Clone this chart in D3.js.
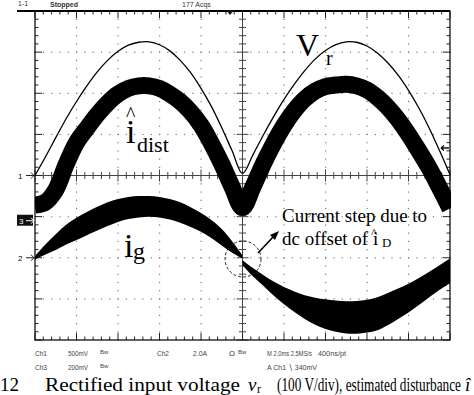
<!DOCTYPE html>
<html><head><meta charset="utf-8">
<script src="https://cdn.jsdelivr.net/npm/d3@7"></script>
<style>body{margin:0;background:#fff}svg{display:block}</style>
</head><body><svg id="c" width="474" height="395"></svg>
<script>
// ---- data (2 ms/div, 10 divisions) ----
const timeMs = [0,0.5,1,1.5,2,2.5,3,3.5,4,4.5,5,5.5,6,6.5,7,7.5,8,8.5,9,9.5,10,
                10.5,11,11.5,12,12.5,13,13.5,14,14.5,15,15.5,16,16.5,17,17.5,18,18.5,19,19.5,20];
// Ch1: rectified input voltage v_r, volts (100 V/div)
const vr = [0,45,92,138,180,218,252,280,302,317,324,325,318,303,280,250,212,168,116,60,5,
            50,98,143,185,222,255,283,304,318,325,324,315,298,274,244,207,164,115,60,2];
// Ch3: estimated disturbance i_dist, mV (200 mV/div)
const idist = [76,90,150,274,380,450,516,572,616,644,656,656,644,616,580,530,464,376,276,164,64,
               164,276,376,464,536,592,630,652,660,664,656,636,600,552,492,420,340,256,160,60];
// Ch2: grid current i_g, amps (2 A/div): positive half, then negative half after the step
const igTimePos = [0,0.5,1,1.5,2,2.5,3,3.5,4,4.5,5,5.5,6,6.5,7,7.5,8,8.5,9,9.5,10];
const igPos = [0,0.4,0.76,1.12,1.4,1.66,1.9,2.12,2.3,2.42,2.48,2.5,2.46,2.36,2.2,1.98,1.72,1.4,1.0,0.52,0.04];
const igPosRipple = [0.08,0.24,0.38,0.48,0.54,0.56,0.58,0.58,0.56,0.54,0.52,0.5,0.5,0.5,0.5,0.48,0.46,0.44,0.4,0.28,0.08];
const igTimeNeg = [10,10.5,11,11.5,12,12.5,13,13.5,14,14.5,15,15.5,16,16.5,17,17.5,18,18.5,19,19.5,20];
const igNeg = [-0.24,-0.7,-1.1,-1.5,-1.84,-2.14,-2.4,-2.6,-2.74,-2.84,-2.9,-2.9,-2.84,-2.72,-2.5,-2.24,-1.96,-1.64,-1.3,-0.96,-0.64];
const igNegRipple = [0.12,0.2,0.26,0.34,0.42,0.5,0.58,0.66,0.72,0.76,0.78,0.8,0.8,0.8,0.78,0.74,0.7,0.66,0.62,0.6,0.6];
// status read-out: [text, x, width]
const statusRow1 = [["Ch1",35,12],["500mV",68,20],["Ch2",157,12],["2.0A",193,14],["\u03A9",229,6],["M 2.0ms 2.5MS/s",267,45],["400ns/pt",318,28]];
const statusRow2 = [["Ch3",35,12],["200mV",68,20],["A  Ch1  \u2216  340mV",267,50]];
const bwMarks = [[100,1],[238,1],[100,2]];

// ---- layout ----
const svg = d3.select('#c');
const X0=35, X1=450, Y0=11, Y1=340;
const x = d3.scaleLinear().domain([0,20]).range([X0,X1]);
const xd = d3.scaleLinear().domain([0,10]).range([X0,X1]);
const yd = d3.scaleLinear().domain([-4,4]).range([Y1,Y0]);
const yV = d3.scaleLinear().domain([-400,400]).range([Y1,Y0]);
const ch3G = -1.1, ch2G = -2.0;
const yD = d3.scaleLinear().domain([(-4-ch3G)*200,(4-ch3G)*200]).range([Y1,Y0]);
const yI = d3.scaleLinear().domain([(-4-ch2G)*2,(4-ch2G)*2]).range([Y1,Y0]);

svg.append('rect').attr('width',474).attr('height',395).attr('fill','#fff');

// grid dots
const g = svg.append('g').attr('fill','#7a7a7a');
for (let i=1;i<10;i++){ if(i===5) continue;
  for (let j=-4;j<=4.001;j+=0.2) g.append('rect').attr('x',xd(i)-0.5).attr('y',yd(j)-0.5).attr('width',1.2).attr('height',1.2);
}
for (let k=-3;k<=3;k++){ if(k===0) continue;
  for (let j=0;j<=10.001;j+=0.2) g.append('rect').attr('x',xd(j)-0.5).attr('y',yd(k)-0.5).attr('width',1.2).attr('height',1.2);
}
// centre axes with ticks
const ax = svg.append('g').attr('stroke','#444').attr('stroke-width',1);
ax.append('line').attr('x1',X0).attr('x2',X1).attr('y1',yd(0)).attr('y2',yd(0));
ax.append('line').attr('x1',xd(5)).attr('x2',xd(5)).attr('y1',Y0).attr('y2',Y1);
for (let j=0;j<=50;j++){ const v=j/5, L=(j%5===0)?6:3.5;
  ax.append('line').attr('x1',xd(v)).attr('x2',xd(v)).attr('y1',yd(0)-L).attr('y2',yd(0)+L);
}
for (let j=0;j<=40;j++){ const v=-4+j/5, L=(j%5===0)?6:3.5;
  ax.append('line').attr('y1',yd(v)).attr('y2',yd(v)).attr('x1',xd(5)-L).attr('x2',xd(5)+L);
}
// border ticks
const bt = svg.append('g').attr('stroke','#222').attr('stroke-width',1);
for (let j=0;j<=50;j++){ const v=j/5, L=(j%5===0)?7:3.5;
  bt.append('line').attr('x1',xd(v)).attr('x2',xd(v)).attr('y1',Y0).attr('y2',Y0+L);
  bt.append('line').attr('x1',xd(v)).attr('x2',xd(v)).attr('y1',Y1).attr('y2',Y1-L);
}
for (let j=0;j<=40;j++){ const v=-4+j/5, L=(j%5===0)?7:3.5;
  bt.append('line').attr('y1',yd(v)).attr('y2',yd(v)).attr('x1',X0).attr('x2',X0+L);
  bt.append('line').attr('y1',yd(v)).attr('y2',yd(v)).attr('x1',X1).attr('x2',X1-L);
}
svg.append('rect').attr('x',X0).attr('y',Y0).attr('width',X1-X0).attr('height',Y1-Y0)
  .attr('fill','none').attr('stroke','#111').attr('stroke-width',1.3);
svg.append('line').attr('x1',17).attr('x2',X1).attr('y1',Y0).attr('y2',Y0).attr('stroke','#000').attr('stroke-width',2.2);

// ---- traces ----
const curve = d3.curveCatmullRom.alpha(0.5);
svg.append('clipPath').attr('id','clip').append('rect').attr('x',X0).attr('y',Y0).attr('width',X1-X0+1).attr('height',Y1-Y0);
// i_g (Ch2) band
const areaPos = d3.area().x((d,i)=>x(igTimePos[i])).y0((d,i)=>yI(d-igPosRipple[i])).y1((d,i)=>yI(d+igPosRipple[i])).curve(curve);
const areaNeg = d3.area().x((d,i)=>x(igTimeNeg[i])).y0((d,i)=>yI(d-igNegRipple[i])).y1((d,i)=>yI(d+igNegRipple[i])).curve(curve);
svg.append('path').attr('d',areaPos(igPos)).attr('fill','#000');
svg.append('path').attr('d',areaNeg(igNeg)).attr('fill','#000');
// i_dist (Ch3) thick band
svg.append('path').attr('d',d3.line().x((d,i)=>x(timeMs[i])).y(d=>yD(d)).curve(curve)(idist))
  .attr('fill','none').attr('stroke','#000').attr('stroke-width',17).attr('stroke-linejoin','round')
  .attr('clip-path','url(#clip)');
// v_r (Ch1)
svg.append('path').attr('d',d3.line().x((d,i)=>x(timeMs[i])).y(d=>yV(d)).curve(curve)(vr))
  .attr('fill','none').attr('stroke','#000').attr('stroke-width',1.3);

// ---- channel markers ----
const mk = svg.append('g').attr('font-family','Liberation Sans, Arial, sans-serif').attr('font-size',8);
mk.append('text').attr('x',18).attr('y',yd(0)+3).text('1');
mk.append('text').attr('x',18).attr('y',yI(0)+3).text('2');
mk.append('rect').attr('x',17).attr('y',yD(0)-6).attr('width',16).attr('height',11).attr('fill','#111');
mk.append('text').attr('x',19).attr('y',yD(0)+3).attr('fill','#fff').text('3');
[yd(0), yI(0), yD(0)].forEach((yy,i)=>{
  mk.append('path').attr('d',`M26,${yy} L34,${yy} M31,${yy-3} L34,${yy} L31,${yy+3}`)
    .attr('stroke', i===2?'#fff':'#222').attr('fill','none').attr('stroke-width',1);
});
svg.append('path').attr('d','M441,148 L449,148 M441,148 L444,145.5 M441,148 L444,150.5').attr('stroke','#111').attr('stroke-width',1.3).attr('fill','none');
svg.append('path').attr('d','M226,10 L234,10 L230,15 Z').attr('fill','#111');
// top header
const hd = svg.append('g').attr('font-family','Liberation Sans, Arial, sans-serif').attr('font-size',7).attr('fill','#333');
hd.append('text').attr('x',18).attr('y',6).text('1-1');
hd.append('text').attr('x',50).attr('y',7).attr('font-weight','bold').text('Stopped');
hd.append('text').attr('x',182).attr('y',7).text('177 Acqs');

// ---- labels ----
const serif = 'Liberation Serif, Times New Roman, serif';
const lb = svg.append('g').attr('font-family',serif).attr('fill','#000');
lb.append('text').attr('x',296).attr('y',56).attr('font-size',32).text('V');
lb.append('text').attr('x',326).attr('y',65).attr('font-size',20).text('r');
lb.append('text').attr('x',126).attr('y',143).attr('font-size',34).text('i');
lb.append('text').attr('x',126).attr('y',121).attr('font-size',20).text('^');
lb.append('text').attr('x',137).attr('y',152).attr('font-size',22).text('dist');
lb.append('text').attr('x',124).attr('y',257).attr('font-size',34).text('i');
lb.append('text').attr('x',133).attr('y',259).attr('font-size',24).text('g');
// annotation
lb.append('text').attr('x',282).attr('y',222).attr('font-size',19).text('Current step due to');
lb.append('text').attr('x',282).attr('y',245).attr('font-size',19).text('dc offset of i');
lb.append('text').attr('x',371).attr('y',237).attr('font-size',13).text('^');
lb.append('text').attr('x',382).attr('y',247).attr('font-size',13).text('D');
svg.append('circle').attr('cx',243).attr('cy',259).attr('r',18).attr('fill','none')
  .attr('stroke','#222').attr('stroke-width',1).attr('stroke-dasharray','3,2');
svg.append('line').attr('x1',258).attr('y1',253).attr('x2',274).attr('y2',236).attr('stroke','#000').attr('stroke-width',1.6);
svg.append('path').attr('d','M279,231 L270,235 L275,240 Z').attr('fill','#000');

// ---- status read-out ----
const st = svg.append('g').attr('font-family','Liberation Sans, Arial, sans-serif').attr('font-size',7.5).attr('fill','#444');
statusRow1.forEach(d=>st.append('text').attr('x',d[1]).attr('y',356).attr('textLength',d[2]).attr('lengthAdjust','spacingAndGlyphs').text(d[0]));
statusRow2.forEach(d=>st.append('text').attr('x',d[1]).attr('y',370).attr('textLength',d[2]).attr('lengthAdjust','spacingAndGlyphs').text(d[0]));
bwMarks.forEach(d=>st.append('text').attr('x',d[0]).attr('y',d[1]===1?354:368).attr('font-size',6).text('Bw'));

// ---- caption (cut at the bottom, as in the source figure) ----
const cp = svg.append('g').attr('font-family',serif).attr('font-size',19).attr('fill','#000');
cp.append('text').attr('x',0).attr('y',391).text('12');
cp.append('text').attr('x',45).attr('y',391).attr('textLength',195).attr('lengthAdjust','spacingAndGlyphs').text('Rectified input voltage');
cp.append('text').attr('x',248).attr('y',391).attr('font-style','italic').text('v');
cp.append('text').attr('x',257).attr('y',393).attr('font-size',12).text('r');
cp.append('text').attr('x',277).attr('y',391).attr('textLength',184).attr('lengthAdjust','spacingAndGlyphs').text('(100 V/div), estimated disturbance');
cp.append('text').attr('x',465).attr('y',391).attr('font-style','italic').text('\u00EE');
</script></body></html>
